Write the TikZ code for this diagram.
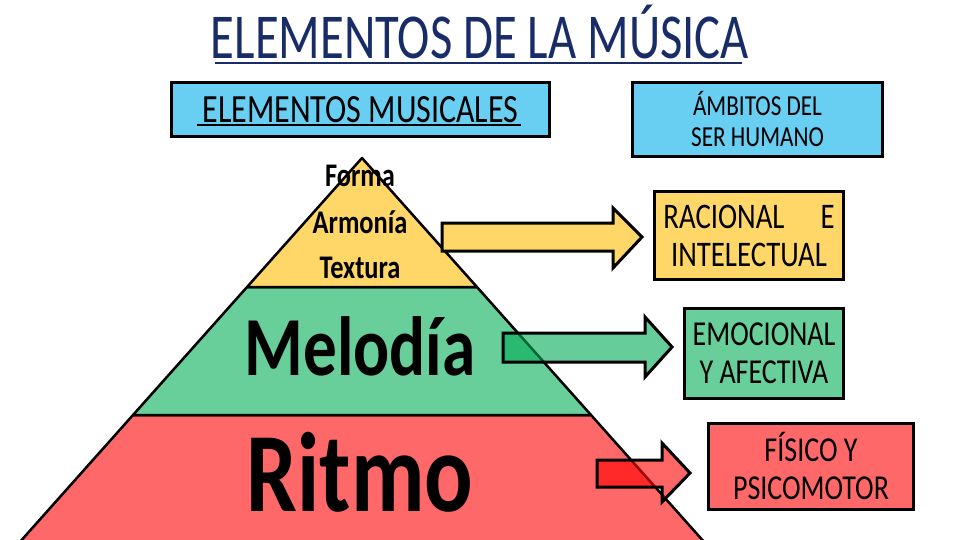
\documentclass[tikz,border=0pt]{standalone}
\usepackage{fontspec}
\newfontfamily\handfont[FakeStretch=0.8]{Carlito}
\newfontfamily\titlefont[FakeStretch=0.76]{Carlito}
\usetikzlibrary{positioning}
\definecolor{titleblue}{RGB}{24,44,104}
\definecolor{skyblue}{RGB}{104,206,242}
\definecolor{capaamarilla}{RGB}{255,214,104}
\definecolor{capaverde}{RGB}{104,206,154}
\definecolor{caparoja}{RGB}{255,104,104}
\definecolor{flechaverde}{RGB}{0,172,86}
\definecolor{flecharoja}{RGB}{255,0,0}

\begin{document}
\begin{tikzpicture}[x=1pt, y=-1pt,
    caja/.style={draw=black, line width=3pt, anchor=north west, inner sep=0pt, align=center},
    flecha/.style={draw=black, line width=3pt, line join=miter},
    capa/.style={draw=black, line width=2.5pt, line join=round},
    etiqueta/.style={text=black, inner sep=0pt}]

    % Marco: 1 unidad = 1 px de la imagen (960 x 540)
    \useasboundingbox (0,0) rectangle (960,540);
    \clip (0,0) rectangle (960,540);

    % Pirámide: vértice y niveles
    \def\apexX{362}
    \def\apexY{158}
    \def\slope{0.891}
    \def\yTop{287}     % fin capa amarilla
    \def\yMid{415}     % fin capa verde
    \def\yBot{560}     % fuera del marco

    % =========================================================================
    % TÍTULO
    % =========================================================================
    \node[text=titleblue, inner sep=0pt, font=\titlefont\fontsize{64}{66}\selectfont] (titulo) at (480,32) {ELEMENTOS DE LA MÚSICA};
    \draw[titleblue, line width=1.6pt] (215,63) -- (742,63);

    % =========================================================================
    % CAJAS DE CABECERA
    % =========================================================================
    \node[caja, fill=skyblue, minimum width=378, minimum height=54,
          font=\handfont\fontsize{40}{42}\selectfont] (musicales) at (170,81) {ELEMENTOS MUSICALES};
    \draw[line width=1.3pt] (197,125) -- (521,125);

    \node[caja, fill=skyblue, minimum width=250, minimum height=74,
          font=\handfont\fontsize{29}{31}\selectfont] (ambitos) at (631,81) {ÁMBITOS DEL\\SER HUMANO};

    % =========================================================================
    % PIRÁMIDE
    % =========================================================================
    \pgfmathsetmacro{\xTopL}{\apexX - \slope*(\yTop - \apexY)}
    \pgfmathsetmacro{\xTopR}{\apexX + \slope*(\yTop - \apexY)}
    \pgfmathsetmacro{\xMidL}{\apexX - \slope*(\yMid - \apexY)}
    \pgfmathsetmacro{\xMidR}{\apexX + \slope*(\yMid - \apexY)}
    \pgfmathsetmacro{\xBotL}{\apexX - \slope*(\yBot - \apexY)}
    \pgfmathsetmacro{\xBotR}{\apexX + \slope*(\yBot - \apexY)}

    % Capa roja (base)
    \filldraw[capa, fill=caparoja] (\xMidL,\yMid) -- (\xMidR,\yMid) -- (\xBotR,\yBot) -- (\xBotL,\yBot) -- cycle;
    % Capa verde
    \filldraw[capa, fill=capaverde] (\xTopL,\yTop) -- (\xTopR,\yTop) -- (\xMidR,\yMid) -- (\xMidL,\yMid) -- cycle;
    % Capa amarilla (cima)
    \filldraw[capa, fill=capaamarilla] (\apexX,\apexY) -- (\xTopR,\yTop) -- (\xTopL,\yTop) -- cycle;

    % Textos de la pirámide
    \foreach \nombre/\texto/\y/\tam in {forma/Forma/176/33, armonia/Armonía/222/33, textura/Textura/268/33,
                                        melodia/Melodía/346/84, ritmo/Ritmo/472/113} {
        \node[etiqueta, font=\handfont\bfseries\fontsize{\tam}{\tam}\selectfont] (\nombre) at (360,\y) {\texto};
    }

    % =========================================================================
    % FLECHAS
    % =========================================================================
    \filldraw[flecha, fill=capaamarilla] (442,223) -- (613,223) -- (613,208) -- (642,237)
        -- (613,268) -- (613,251) -- (442,251) -- cycle;
    \filldraw[flecha, fill=flechaverde, fill opacity=0.6] (503,333) -- (645,333) -- (645,317) -- (672,347)
        -- (645,377) -- (645,362) -- (503,362) -- cycle;
    \filldraw[flecha, fill=flecharoja, fill opacity=0.6] (597,460) -- (662,460) -- (662,443) -- (690,473)
        -- (662,502) -- (662,487) -- (597,487) -- cycle;

    % =========================================================================
    % ÁMBITOS
    % =========================================================================
    \node[caja, fill=capaamarilla, minimum width=189, minimum height=88,
          font=\handfont\fontsize{36}{38}\selectfont] (racional) at (653,190) {RACIONAL\quad E\\INTELECTUAL};
    \node[caja, fill=capaverde, minimum width=159, minimum height=90,
          font=\handfont\fontsize{35}{38}\selectfont] (emocional) at (683,307) {EMOCIONAL\\Y AFECTIVA};
    \node[caja, fill=caparoja, minimum width=205, minimum height=86,
          font=\handfont\fontsize{35}{38}\selectfont] (fisico) at (707,422) {FÍSICO Y\\PSICOMOTOR};

\end{tikzpicture}
\end{document}
